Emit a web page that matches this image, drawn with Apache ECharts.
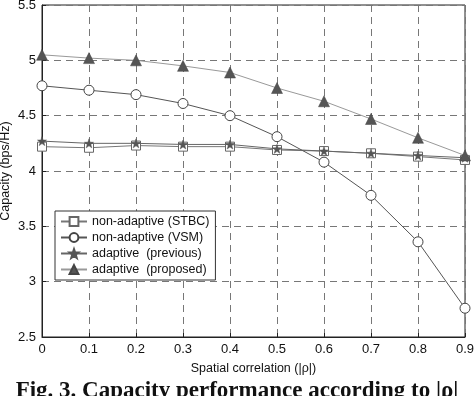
<!DOCTYPE html>
<html><head><meta charset="utf-8">
<script src="https://cdn.jsdelivr.net/npm/echarts@6/dist/echarts.min.js"></script>
<style>html,body{margin:0;padding:0;background:#fff}#c{width:474px;height:396px}</style>
</head><body><div id="c"></div>
<script>
const rho = [0, 0.1, 0.2, 0.3, 0.4, 0.5, 0.6, 0.7, 0.8, 0.9];
const stbc = [4.22, 4.21, 4.23, 4.22, 4.22, 4.19, 4.18, 4.16, 4.13, 4.10];
const vsm = [4.77, 4.73, 4.69, 4.61, 4.50, 4.31, 4.08, 3.78, 3.36, 2.76];
const previous = [4.27, 4.25, 4.25, 4.24, 4.24, 4.20, 4.18, 4.16, 4.14, 4.12];
const proposed = [5.05, 5.02, 5.00, 4.95, 4.89, 4.75, 4.63, 4.47, 4.30, 4.14];
const names = ['non-adaptive (STBC)', 'non-adaptive (VSM)', 'adaptive  (previous)', 'adaptive  (proposed)'];
const xTicks = ['0','0.1','0.2','0.3','0.4','0.5','0.6','0.7','0.8','0.9'];

const pts = arr => rho.map((x, i) => [x, arr[i]]);
const font = 'Liberation Sans, Arial, sans-serif';
const chart = echarts.init(document.getElementById('c'));
chart.setOption({
  animation: false,
  backgroundColor: '#fff',
  grid: { left: 42, right: 9, top: 5, bottom: 59, show: true, borderColor: '#222', borderWidth: 1,
    containLabel: false, outerBoundsMode: 'none' },
  xAxis: {
    type: 'value', min: 0, max: 0.9, interval: 0.1,
    name: 'Spatial correlation (|ρ|)', nameLocation: 'middle', nameGap: 25, nameMoveOverlap: false,
    nameTextStyle: { fontFamily: font, fontSize: 12.5, color: '#111' },
    axisLine: { lineStyle: { color: '#222' } },
    axisTick: { inside: true, length: 4, lineStyle: { color: '#222' } },
    axisLabel: { fontFamily: font, fontSize: 13, color: '#111', margin: 6,
      formatter: v => xTicks[Math.round(v * 10)] },
    splitLine: { show: true, lineStyle: { type: [7, 5], color: '#777', width: 1 } }
  },
  yAxis: {
    type: 'value', min: 2.5, max: 5.5, interval: 0.5,
    name: 'Capacity (bps/Hz)', nameLocation: 'middle', nameGap: 30, nameMoveOverlap: false,
    nameTextStyle: { fontFamily: font, fontSize: 12.5, color: '#111' },
    axisLine: { show: true, lineStyle: { color: '#222' } },
    axisTick: { show: true, inside: true, length: 4, lineStyle: { color: '#222' } },
    axisLabel: { fontFamily: font, fontSize: 13, color: '#111', margin: 6 },
    splitLine: { show: true, lineStyle: { type: [7, 5], color: '#777', width: 1 } }
  },
  legend: {
    orient: 'vertical', left: 55, top: 211,
    backgroundColor: '#fff', borderColor: '#333', borderWidth: 1,
    padding: [4, 6, 4, 5], itemGap: 3, itemWidth: 26, itemHeight: 11,
    textStyle: { fontFamily: font, fontSize: 12.5, color: '#111' },
    data: names
  },
  series: [
    { name: names[0], type: 'line', data: pts(stbc), symbol: 'rect', symbolSize: 9,
      lineStyle: { color: '#777', width: 1 }, itemStyle: { color: '#fff', borderColor: '#666', borderWidth: 1 }, z: 2 },
    { name: names[1], type: 'line', data: pts(vsm), symbol: 'circle', symbolSize: 10,
      lineStyle: { color: '#555', width: 1 }, itemStyle: { color: '#fff', borderColor: '#444', borderWidth: 1 }, z: 3 },
    { name: names[2], type: 'line', data: pts(previous), symbol: 'path://M0,-10 L2.35,-3.24 L9.51,-3.09 L3.8,1.24 L5.88,8.09 L0,4 L-5.88,8.09 L-3.8,1.24 L-9.51,-3.09 L-2.35,-3.24 Z', symbolSize: 9,
      lineStyle: { color: '#666', width: 1 }, itemStyle: { color: '#555', borderColor: '#555', borderWidth: 0.5 }, z: 4 },
    { name: names[3], type: 'line', data: pts(proposed), symbol: 'triangle', symbolSize: 11,
      lineStyle: { color: '#999', width: 1 }, itemStyle: { color: '#555', borderColor: '#444', borderWidth: 0.5 }, z: 5 }
  ],
  graphic: [{
    type: 'text', left: 'center', top: 380,
    style: { text: 'Fig. 3. Capacity performance according to |ρ|', fontFamily: 'Liberation Serif, Times New Roman, serif',
      fontWeight: 'bold', fontSize: 23, fill: '#111' }
  }]
});
</script></body></html>
